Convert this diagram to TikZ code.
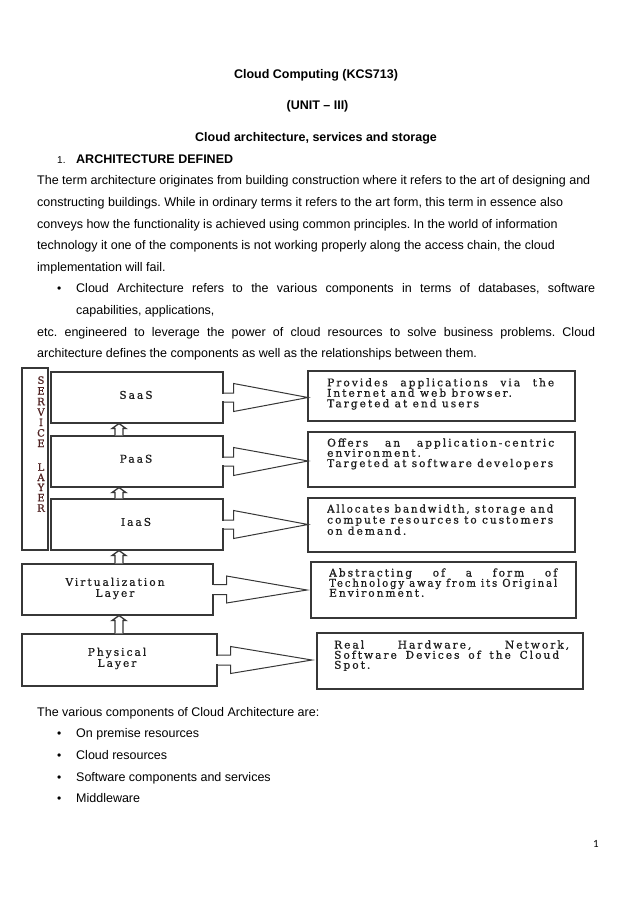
\documentclass[tikz,border=0pt]{standalone}
\usepackage{fontspec}
\usepackage{graphicx}
\setmainfont{Liberation Sans}
\newfontfamily\dgfont[LetterSpace=19,FakeBold=0.9]{DejaVu Serif}
\newfontfamily\pnfont{Carlito}
\usetikzlibrary{calc}
\frenchspacing
\definecolor{lettercol}{RGB}{80,35,35}
\definecolor{linecol}{RGB}{55,55,55}
\definecolor{dtcol}{RGB}{30,30,30}
\newlength\jw
\newcommand{\jline}[2]{\settowidth{\jw}{#2}\ifdim\jw>#1pt\relax\pgfmathsetmacro\jfac{#1/\jw}\scalebox{\jfac}[1]{#2}\else\makebox[#1pt][s]{#2}\fi}
\newcommand{\blkarrow}[5]{% box, stem length, stem half, head half, tip
  \coordinate (tmpE) at (#1.east);
  \fill[white] ($(tmpE)+(-1.5,-#3+0.7)$) rectangle ($(tmpE)+(1,#3-0.7)$);
  \draw[aline] ($(tmpE)+(0,-#3)$) -- ++(#2,0) -- ++(0,-#4+#3) -- (#5)
     -- ($(tmpE)+(#2,#4)$) -- ++(0,-#4+#3) -- ($(tmpE)+(0,#3)$);}
\newcommand{\uparr}[2]{% upper box, lower box
  \coordinate (tA) at (ax |- #1.south);
  \coordinate (tB) at (ax |- #2.north);
  \draw[aline,line width=1.3pt,fill=white] ($(tB)+(-4,0)$) -- ($(tA)+(-4,5)$) -- ($(tA)+(-7,5)$) -- (tA)
     -- ($(tA)+(7,5)$) -- ($(tA)+(4,5)$) -- ($(tB)+(4,0)$);}
\begin{document}
\begin{tikzpicture}[x=1pt,y=-1pt,
  body/.style={anchor=base west,inner sep=0pt,font=\fontsize{12.5}{14}\selectfont},
  head/.style={anchor=base,inner sep=0pt,font=\bfseries\fontsize{12.5}{14}\selectfont},
  bul/.style={anchor=base west,inner sep=0pt,font=\fontsize{12}{13}\selectfont},
  dtxt/.style={anchor=base west,inner sep=0pt,text=dtcol,font=\dgfont\fontsize{10.6}{11}\selectfont},
  lbl/.style={anchor=base,inner sep=0pt,text=dtcol,font=\dgfont\fontsize{10.6}{11}\selectfont},
  let/.style={anchor=base,inner sep=0pt,text=lettercol,font=\dgfont\fontsize{10}{10}\selectfont},
  lbox/.style={draw=linecol,line width=1.1pt,fill=white,inner sep=0pt},
  rbox/.style={draw=linecol,line width=1.8pt,fill=white,inner sep=0pt},
  aline/.style={draw=linecol,line width=1pt,line join=miter}]
\useasboundingbox (0,0) rectangle (638,902);
\fill[white] (0,0) rectangle (638,902);

% headings
\node[head] (t1) at (316,78.5) {Cloud Computing (KCS713)};
\node[head] (t2) at (317.5,109.7) {(UNIT -- III)};
\node[head] (t3) at (316,141.8) {Cloud architecture, services and storage};
\node[anchor=base west,inner sep=0pt,font=\fontsize{10}{12}\selectfont] (n1) at (57,163.5) {1.};
\node[anchor=base west,inner sep=0pt,font=\bfseries\fontsize{12.5}{14}\selectfont] (h1) at (76,163.5) {ARCHITECTURE DEFINED};

% body
\node[body] (b1) at (37,184.8) {The term architecture originates from building construction where it refers to the art of designing and};
\node[body] (b2) at (37,206.4) {constructing buildings. While in ordinary terms it refers to the art form, this term in essence also};
\node[body] (b3) at (37,228.0) {conveys how the functionality is achieved using common principles. In the world of information};
\node[body] (b4) at (37,249.6) {technology it one of the components is not working properly along the access chain, the cloud};
\node[body] (b5) at (37,271.2) {implementation will fail.};
\node[bul] (u0) at (57,292.8) {\textbullet};
\node[body] (b6) at (76,292.8) {\makebox[519pt][s]{Cloud Architecture refers to the various components in terms of databases, software}};
\node[body] (b7) at (76,314.4) {capabilities, applications,};
\node[body] (b8) at (37,336.0) {\makebox[558pt][s]{etc. engineered to leverage the power of cloud resources to solve business problems. Cloud}};
\node[body] (b9) at (37,357.6) {architecture defines the components as well as the relationships between them.};

% diagram: left column
\node[lbox,minimum width=26,minimum height=182] (svc) at (35,459) {};
\node[lbox,minimum width=172,minimum height=51] (saas) at (137,397.5) {};
\node[lbox,minimum width=172,minimum height=51] (paas) at (137,461.5) {};
\node[lbox,minimum width=172,minimum height=51] (iaas) at (137,524.5) {};
\node[lbox,minimum width=191,minimum height=51] (virt) at (117.5,589.5) {};
\node[lbox,minimum width=195,minimum height=52] (phys) at (119.5,660) {};

\node[let] (l1) at (41,383.8) {S};
\node[let] (l2) at (41,394.5) {E};
\node[let] (l3) at (41,405.2) {R};
\node[let] (l4) at (41,415.7) {V};
\node[let] (l5) at (41,426.0) {I};
\node[let] (l6) at (41,436.5) {C};
\node[let] (l7) at (41,447.0) {E};
\node[let] (l8) at (41,470.7) {L};
\node[let] (l9) at (41,481.0) {A};
\node[let] (l10) at (41,491.0) {Y};
\node[let] (l11) at (41,501.2) {E};
\node[let] (l12) at (41,511.7) {R};

\node[lbl] (saasl) at (136,398.8) {SaaS};
\node[lbl] (paasl) at (136,462.6) {PaaS};
\node[lbl] (iaasl) at (136,525.8) {IaaS};
\node[lbl] (virtl1) at (115,585.8) {Virtualization};
\node[lbl] (virtl2) at (115,596.8) {Layer};
\node[lbl] (physl1) at (117,655.8) {Physical};
\node[lbl] (physl2) at (117,666.8) {Layer};

% up arrows
\coordinate (ax) at (119,0);
\uparr{saas}{paas}
\uparr{paas}{iaas}
\uparr{iaas}{virt}
\uparr{virt}{phys}

% right column
\node[rbox,minimum width=267,minimum height=50] (saasd) at (441.5,396) {};
\node[rbox,minimum width=267,minimum height=55] (paasd) at (441.5,459.5) {};
\node[rbox,minimum width=267,minimum height=54] (iaasd) at (441.5,525) {};
\node[rbox,minimum width=265,minimum height=56] (virtd) at (443.5,590) {};
\node[rbox,minimum width=266,minimum height=56] (physd) at (450,661) {};

% block arrows
\coordinate (tipa) at (308,397.5);
\coordinate (tipb) at (308,461);
\coordinate (tipc) at (308,524.5);
\coordinate (tipd) at (307,590);
\coordinate (tipe) at (312,660);
\blkarrow{saas}{10}{4.5}{14}{tipa}
\blkarrow{paas}{10}{4.5}{14}{tipb}
\blkarrow{iaas}{10}{4.5}{14}{tipc}
\blkarrow{virt}{13}{5}{13.5}{tipd}
\blkarrow{phys}{13}{5}{13.5}{tipe}

% descriptions
\node[dtxt] (d1) at (327,386.3) {\jline{227}{Provides applications via the}};
\node[dtxt] (d2) at (327,396.7) {Internet and web browser.};
\node[dtxt] (d3) at (327,407.2) {Targeted at end users};
\node[dtxt] (d4) at (327,446.5) {\jline{227}{Offers an application-centric}};
\node[dtxt] (d5) at (327,456.7) {environment.};
\node[dtxt] (d6) at (327,467.0) {\jline{226}{Targeted at software developers}};
\node[dtxt] (d7) at (327,512.5) {\jline{226}{Allocates bandwidth, storage and}};
\node[dtxt] (d8) at (327,523.5) {\jline{226}{compute resources to customers}};
\node[dtxt] (d9) at (327,534.7) {on demand.};
\node[dtxt] (d10) at (329,576.5) {\jline{228}{Abstracting of a form of}};
\node[dtxt] (d11) at (329,586.7) {\jline{228}{Technology away from its Original}};
\node[dtxt] (d12) at (329,596.7) {Environment.};
\node[dtxt] (d13) at (334,648.5) {\jline{235}{Real Hardware, Network,}};
\node[dtxt] (d14) at (334,658.7) {\jline{225}{Software Devices of the Cloud}};
\node[dtxt] (d15) at (334,668.7) {Spot.};

% lower text
\node[body] (c0) at (37,716.3) {The various components of Cloud Architecture are:};
\node[bul] (u1) at (57,737.9) {\textbullet};
\node[body] (c1) at (76,737.9) {On premise resources};
\node[bul] (u2) at (57,759.5) {\textbullet};
\node[body] (c2) at (76,759.5) {Cloud resources};
\node[bul] (u3) at (57,781.1) {\textbullet};
\node[body] (c3) at (76,781.1) {Software components and services};
\node[bul] (u4) at (57,802.7) {\textbullet};
\node[body] (c4) at (76,802.7) {Middleware};
\node[anchor=base,inner sep=0pt,font=\pnfont\fontsize{11}{12}\selectfont] (pg) at (596,847) {1};
\end{tikzpicture}
\end{document}
